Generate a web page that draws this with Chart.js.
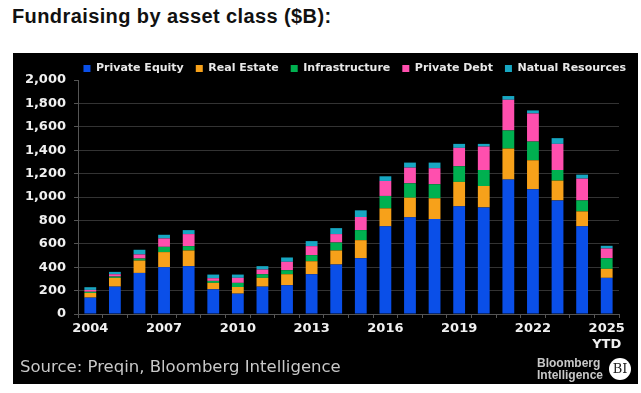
<!DOCTYPE html>
<html>
<head>
<meta charset="utf-8">
<script src="https://cdn.jsdelivr.net/npm/chart.js@4.4.1/dist/chart.umd.min.js"></script>
<style>
  body { margin: 0; width: 641px; height: 393px; background: #fff; position: relative; overflow: hidden; }
  #title { position: absolute; left: 12px; top: 4px; font: bold 20px/24px 'Liberation Sans', Arial, sans-serif; letter-spacing: 0.4px; color: #111; white-space: nowrap; }
  #panel { position: absolute; left: 13px; top: 53px; width: 625px; height: 331px; background: #000; }
  #panel canvas { position: absolute; left: 0; top: 0; }
  #source { position: absolute; left: 7px; top: 304px; font: 16.5px/20px 'DejaVu Sans', sans-serif; color: #c8c8c8; white-space: nowrap; }
  #brand { position: absolute; left: 524px; top: 304px; font: bold 12px/12px 'Liberation Sans', Arial, sans-serif; color: #c8c8c8; }
  #bi { position: absolute; left: 596px; top: 305px; width: 22px; height: 22px; border-radius: 50%; background: #fff; color: #222; font: 13px/22px 'DejaVu Serif', serif; text-align: center; }
</style>
</head>
<body>
<div id="title">Fundraising by asset class ($B):</div>
<div id="panel">
  <canvas id="chart" width="625" height="331"></canvas>
  <div id="source">Source: Preqin, Bloomberg Intelligence</div>
  <div id="brand">Bloomberg<br>Intelligence</div>
  <div id="bi">BI</div>
</div>
<script>
const years = ['2004', '2005', '2006', '2007', '2008', '2009', '2010', '2011', '2012', '2013', '2014',
  '2015', '2016', '2017', '2018', '2019', '2020', '2021', '2022', '2023', '2024', ['2025', 'YTD']];

const privateEquity = [140, 234, 351, 400, 409, 211, 174, 234, 246, 340, 423, 477, 749, 826, 811, 920, 911, 1149, 1066, 971, 749, 309];
const realEstate = [40, 75, 106, 129, 134, 55, 57, 75, 94, 111, 120, 154, 154, 168, 178, 209, 183, 265, 248, 169, 128, 77];
const infrastructure = [10, 11, 17, 45, 37, 17, 35, 31, 34, 52, 68, 86, 106, 123, 120, 134, 137, 155, 160, 91, 94, 91];
const privateDebt = [16, 20, 35, 72, 103, 23, 43, 40, 72, 77, 72, 112, 128, 134, 137, 157, 200, 262, 240, 223, 186, 83];
const naturalResources = [23, 20, 40, 31, 34, 31, 28, 29, 37, 43, 51, 57, 40, 43, 48, 34, 23, 32, 26, 49, 34, 23];

const yTicks = { min: 0, max: 2000, step: 200 };

Chart.defaults.font.family = "'DejaVu Sans', sans-serif";

// squeeze the legend so the plot starts right under it
const legendFit = {
  id: 'legendFit',
  beforeInit(chart) {
    const fit = chart.legend.fit;
    chart.legend.fit = function () {
      fit.call(this);
      this.height = 27;
    };
  },
  afterLayout(chart) {
    chart.legend.top -= 2;
  }
};

function series(label, data, color) {
  return {
    label: label,
    data: data,
    backgroundColor: color,
    borderWidth: 0,
    categoryPercentage: 1,
    barPercentage: 0.48
  };
}

new Chart(document.getElementById('chart'), {
  type: 'bar',
  data: {
    labels: years,
    datasets: [
      series('Private Equity', privateEquity, '#0a4fe8'),
      series('Real Estate', realEstate, '#f7a11a'),
      series('Infrastructure', infrastructure, '#00b050'),
      series('Private Debt', privateDebt, '#ff4fae'),
      series('Natual Resources', naturalResources, '#17a7c2')
    ]
  },
  options: {
    responsive: false,
    animation: false,
    layout: { padding: 0 },
    plugins: {
      tooltip: { enabled: false },
      legend: {
        position: 'top',
        align: 'end',
        labels: {
          boxWidth: 7,
          boxHeight: 7,
          padding: 12,
          color: '#e8e8e8',
          font: { size: 11, weight: 'bold' }
        }
      }
    },
    scales: {
      x: {
        stacked: true,
        afterFit(scale) {
          scale.height = 70;
          scale.paddingRight = 19;
        },
        grid: {
          drawOnChartArea: false,
          drawTicks: true,
          tickLength: 4,
          color: '#555'
        },
        border: { color: '#555' },
        ticks: {
          autoSkip: false,
          maxRotation: 0,
          padding: 3,
          color: '#f0f0f0',
          font: { size: 13, weight: 'bold' },
          callback: function (value, index) {
            return index % 3 === 0 ? this.getLabelForValue(value) : '';
          }
        }
      },
      y: {
        stacked: true,
        min: yTicks.min,
        max: yTicks.max,
        afterFit(scale) {
          scale.width = 65;
        },
        grid: {
          color: ctx => ctx.tick && ctx.tick.value === yTicks.max ? 'rgba(0,0,0,0)' : '#333',
          tickColor: '#555',
          tickLength: 4
        },
        border: { color: '#555' },
        ticks: {
          stepSize: yTicks.step,
          padding: 8,
          color: '#f0f0f0',
          font: { size: 13, weight: 'bold' }
        }
      }
    }
  },
  plugins: [legendFit]
});
</script>
</body>
</html>
